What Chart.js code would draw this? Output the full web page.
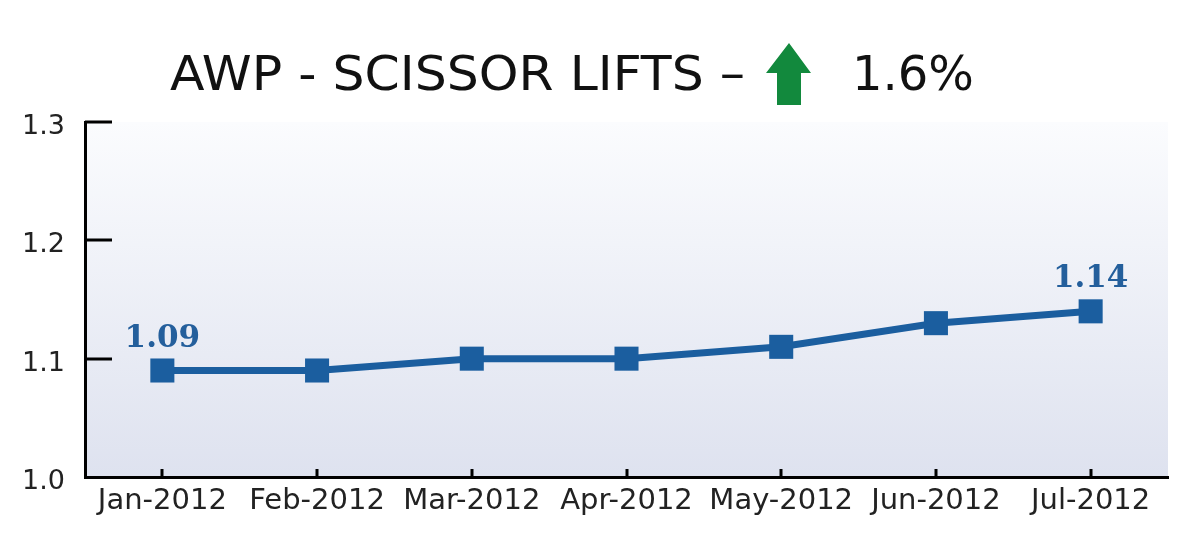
<!DOCTYPE html>
<html>
<head>
<meta charset="utf-8">
<title>AWP - Scissor Lifts</title>
<script src="https://cdn.jsdelivr.net/npm/chart.js@4/dist/chart.umd.min.js"></script>
<style>
  html, body { margin: 0; padding: 0; background: #ffffff; }
  #wrap { width: 1200px; height: 559px; }
</style>
</head>
<body>
<div id="wrap"><canvas id="chart" width="1200" height="559"></canvas></div>
<script>
const months = ['Jan-2012', 'Feb-2012', 'Mar-2012', 'Apr-2012', 'May-2012', 'Jun-2012', 'Jul-2012'];
const values = [1.09, 1.09, 1.10, 1.10, 1.11, 1.13, 1.14];
const yTicks = [1.0, 1.1, 1.2, 1.3];
const titleText = 'AWP - SCISSOR LIFTS \u2013';
const changeText = '1.6%';

const lineBlue = '#1b5e9f';

// ---------- plot background gradient ----------
const plotBackground = {
	id: 'plotBackground',
	beforeDraw(chart) {
		const { ctx, chartArea } = chart;
		const g = ctx.createLinearGradient(0, chartArea.top, 0, chartArea.bottom);
		g.addColorStop(0, '#fbfcfe');
		g.addColorStop(1, '#dee2ef');
		ctx.save();
		ctx.fillStyle = g;
		ctx.fillRect(chartArea.left, chartArea.top, chartArea.right - chartArea.left, chartArea.bottom - chartArea.top);
		ctx.restore();
	},
};

// ---------- inward tick marks ----------
const tickMarks = {
	id: 'tickMarks',
	afterDraw(chart) {
		const { ctx, chartArea } = chart;
		const x = chart.scales.x;
		const y = chart.scales.y;
		ctx.save();
		ctx.strokeStyle = '#000000';
		ctx.lineWidth = 3;
		ctx.beginPath();
		yTicks.forEach((v) => {
			if (v === yTicks[0]) return;
			const py = Math.round(y.getPixelForValue(v));
			ctx.moveTo(chartArea.left, py);
			ctx.lineTo(chartArea.left + 27, py);
		});
		months.forEach((m, i) => {
			const px = Math.round(x.getPixelForValue(i));
			ctx.moveTo(px, chartArea.bottom);
			ctx.lineTo(px, chartArea.bottom - 8);
		});
		ctx.stroke();
		ctx.restore();
	},
};

// ---------- first / last value labels ----------
const endLabels = {
	id: 'endLabels',
	afterDatasetsDraw(chart) {
		const { ctx } = chart;
		const meta = chart.getDatasetMeta(0);
		ctx.save();
		ctx.font = 'bold 31px "DejaVu Serif", serif';
		ctx.fillStyle = '#245f9c';
		ctx.textAlign = 'center';
		ctx.textBaseline = 'alphabetic';
		[0, values.length - 1].forEach((i) => {
			const pt = meta.data[i];
			ctx.fillText(values[i].toFixed(2), pt.x, pt.y - 24);
		});
		ctx.restore();
	},
};

// ---------- title with green arrow ----------
const titleWithArrow = {
	id: 'titleWithArrow',
	afterDraw(chart) {
		const { ctx } = chart;
		ctx.save();
		ctx.fillStyle = '#111111';
		ctx.textBaseline = 'alphabetic';
		ctx.textAlign = 'left';
		ctx.font = '48px "DejaVu Sans", sans-serif';

		// stretch a touch to match the reference width
		const w = ctx.measureText(titleText).width;
		ctx.save();
		ctx.translate(170, 90);
		ctx.scale(575 / w, 1);
		ctx.fillText(titleText, 0, 0);
		ctx.restore();

		ctx.fillText(changeText, 852, 90);

		// arrow
		ctx.fillStyle = '#12893d';
		ctx.beginPath();
		ctx.moveTo(789, 43);
		ctx.lineTo(811, 73);
		ctx.lineTo(801, 73);
		ctx.lineTo(801, 105);
		ctx.lineTo(777, 105);
		ctx.lineTo(777, 73);
		ctx.lineTo(766, 73);
		ctx.closePath();
		ctx.fill();
		ctx.restore();
	},
};

new Chart(document.getElementById('chart'), {
	type: 'line',
	data: {
		labels: months,
		datasets: [
			{
				data: values,
				borderColor: lineBlue,
				borderWidth: 7,
				backgroundColor: lineBlue,
				pointStyle: 'rect',
				pointRadius: 17,
				pointBorderWidth: 0,
				pointBackgroundColor: lineBlue,
				tension: 0,
				fill: false,
			},
		],
	},
	options: {
		responsive: false,
		animation: false,
		devicePixelRatio: 1,
		layout: {
			padding: { top: 122, right: 32, bottom: 0, left: 0 },
		},
		plugins: {
			legend: { display: false },
			tooltip: { enabled: false },
			title: { display: false },
		},
		scales: {
			x: {
				offset: true,
				grid: { display: false, drawTicks: false },
				border: { display: true, color: '#000000', width: 3 },
				ticks: {
					color: '#222222',
					padding: 7,
					maxRotation: 0,
					font: { family: '"DejaVu Sans", sans-serif', size: 29 },
				},
				afterFit(scale) {
					scale.height = 82;
				},
			},
			y: {
				min: 1.0,
				max: 1.3,
				grid: { display: false, drawTicks: false },
				border: { display: true, color: '#000000', width: 3 },
				afterBuildTicks(scale) {
					scale.ticks = yTicks.map((v) => ({ value: v }));
				},
				ticks: {
					color: '#222222',
					padding: 20,
					labelOffset: 5,
					font: { family: '"DejaVu Sans", sans-serif', size: 27 },
					callback: (v) => Number(v).toFixed(1),
				},
				afterFit(scale) {
					scale.width = 85;
				},
			},
		},
	},
	plugins: [plotBackground, tickMarks, endLabels, titleWithArrow],
});
</script>
</body>
</html>
